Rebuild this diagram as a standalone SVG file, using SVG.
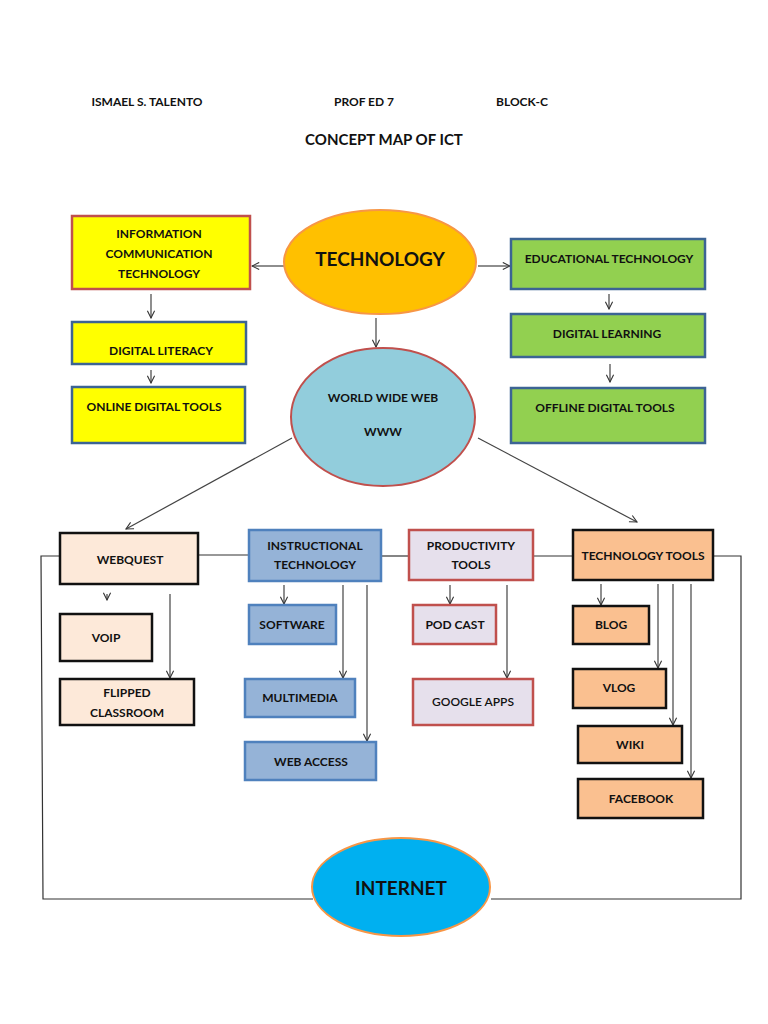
<svg xmlns="http://www.w3.org/2000/svg" width="768" height="1024" viewBox="0 0 768 1024">
<defs>
<marker id="arr" viewBox="0 0 10 10" refX="9" refY="5" markerWidth="9" markerHeight="9" markerUnits="userSpaceOnUse" orient="auto">
<polyline points="1,1 9,5 1,9" fill="none" stroke="#333" stroke-width="1.2"/>
</marker>
<style>
text{font-family:Lato,"Open Sans","Liberation Sans",sans-serif;font-weight:bold;fill:#111;text-anchor:middle}
.t{font-size:12px}
.c{fill:none;stroke:#333;stroke-width:1.2}
.a{fill:none;stroke:#444;stroke-width:1.2;marker-end:url(#arr)}
.yel{fill:#ffff00}
.grn{fill:#92d050;stroke:#3c6494;stroke-width:2.5}
.bl{fill:#95b3d7;stroke:#4f81bd;stroke-width:2.5}
.pk{fill:#fde9d9;stroke:#111;stroke-width:2.5}
.pu{fill:#e6e0ec;stroke:#c0504d;stroke-width:2.5}
.or{fill:#fac090;stroke:#111;stroke-width:2.5}
</style>
</defs>
<rect width="768" height="1024" fill="#fff"/>
<text x="147" y="106" class="t">ISMAEL S. TALENTO</text>
<text x="364" y="106" class="t">PROF ED 7</text>
<text x="522" y="106" class="t">BLOCK-C</text>
<text x="384" y="145" style="font-size:15px">CONCEPT MAP OF ICT</text>

<g id="connectors">
<line class="a" x1="284" y1="266" x2="252" y2="266"/>
<line class="a" x1="478" y1="266" x2="510" y2="266"/>
<line class="a" x1="376" y1="318" x2="376" y2="347"/>
<line class="a" x1="151" y1="294" x2="151" y2="318"/>
<line class="a" x1="151" y1="370" x2="151" y2="383"/>
<line class="a" x1="609" y1="294" x2="609" y2="309"/>
<line class="a" x1="610" y1="364" x2="610" y2="382"/>
<line class="a" x1="292" y1="438" x2="126" y2="529"/>
<line class="a" x1="478" y1="438" x2="637" y2="522"/>
<polyline class="c" points="60,556 41,556 43,899 313,899"/>
<polyline class="c" points="491,899 741,899 741,556 714,556"/>
<line class="c" x1="198" y1="555" x2="249" y2="555"/>
<line class="c" x1="381" y1="556" x2="409" y2="556"/>
<line class="c" x1="533" y1="556" x2="573" y2="556"/>
<line class="a" x1="107" y1="594" x2="107" y2="600"/>
<line class="a" x1="170" y1="594" x2="170" y2="678"/>
<line class="a" x1="284" y1="585" x2="284" y2="604"/>
<line class="a" x1="343" y1="585" x2="343" y2="678"/>
<line class="a" x1="367" y1="585" x2="367" y2="741"/>
<line class="a" x1="450" y1="585" x2="450" y2="604"/>
<line class="a" x1="507" y1="585" x2="507" y2="678"/>
<line class="a" x1="601" y1="584" x2="601" y2="605"/>
<line class="a" x1="658" y1="584" x2="658" y2="668"/>
<line class="a" x1="673" y1="584" x2="673" y2="725"/>
<line class="a" x1="691" y1="584" x2="691" y2="778"/>
</g>

<g id="technology">
<ellipse cx="380" cy="262" rx="96" ry="52" fill="#ffc000" stroke="#f79646" stroke-width="2"/>
<text x="380" y="266" style="font-size:19px">TECHNOLOGY</text>
</g>
<g id="ict">
<rect class="yel" x="72" y="216" width="178" height="73" stroke="#c0504d" stroke-width="2.5"/>
<text class="t" x="159" y="238">INFORMATION</text>
<text class="t" x="159" y="258">COMMUNICATION</text>
<text class="t" x="159" y="278">TECHNOLOGY</text>
</g>
<g id="digital-literacy">
<rect class="yel" x="72" y="322" width="174" height="42" stroke="#3c6494" stroke-width="2.5"/>
<text class="t" x="161" y="355">DIGITAL LITERACY</text>
</g>
<g id="online-digital-tools">
<rect class="yel" x="72" y="387" width="173" height="56" stroke="#3c6494" stroke-width="2.5"/>
<text class="t" x="154" y="411">ONLINE DIGITAL TOOLS</text>
</g>
<g id="educational-technology">
<rect class="grn" x="511" y="239" width="194" height="50"/>
<text class="t" x="609" y="263">EDUCATIONAL TECHNOLOGY</text>
</g>
<g id="digital-learning">
<rect class="grn" x="511" y="314" width="194" height="43"/>
<text class="t" x="607" y="338">DIGITAL LEARNING</text>
</g>
<g id="offline-digital-tools">
<rect class="grn" x="511" y="388" width="194" height="55"/>
<text class="t" x="605" y="412">OFFLINE DIGITAL TOOLS</text>
</g>
<g id="www">
<ellipse cx="383" cy="417" rx="92" ry="69" fill="#92cddc" stroke="#c0504d" stroke-width="2"/>
<text class="t" x="383" y="402">WORLD WIDE WEB</text>
<text class="t" x="383" y="436">WWW</text>
</g>
<g id="webquest">
<rect class="pk" x="60" y="533" width="138" height="51"/>
<text class="t" x="130" y="564">WEBQUEST</text>
</g>
<g id="voip">
<rect class="pk" x="60" y="614" width="92" height="47"/>
<text class="t" x="106" y="642">VOIP</text>
</g>
<g id="flipped-classroom">
<rect class="pk" x="60" y="679" width="134" height="46"/>
<text class="t" x="127" y="697">FLIPPED</text>
<text class="t" x="127" y="717">CLASSROOM</text>
</g>
<g id="instructional-technology">
<rect class="bl" x="249" y="530" width="132" height="51"/>
<text class="t" x="315" y="550">INSTRUCTIONAL</text>
<text class="t" x="315" y="569">TECHNOLOGY</text>
</g>
<g id="software">
<rect class="bl" x="249" y="605" width="87" height="39"/>
<text class="t" x="292" y="629">SOFTWARE</text>
</g>
<g id="multimedia">
<rect class="bl" x="245" y="679" width="110" height="38"/>
<text class="t" x="300" y="702">MULTIMEDIA</text>
</g>
<g id="web-access">
<rect class="bl" x="245" y="742" width="131" height="38"/>
<text class="t" x="311" y="766">WEB ACCESS</text>
</g>
<g id="productivity-tools">
<rect class="pu" x="409" y="530" width="124" height="50"/>
<text class="t" x="471" y="550">PRODUCTIVITY</text>
<text class="t" x="471" y="569">TOOLS</text>
</g>
<g id="pod-cast">
<rect class="pu" x="413" y="605" width="83" height="39"/>
<text class="t" x="455" y="629">POD CAST</text>
</g>
<g id="google-apps">
<rect class="pu" x="413" y="679" width="120" height="46"/>
<text class="t" x="473" y="706" style="font-weight:600">GOOGLE APPS</text>
</g>
<g id="technology-tools">
<rect class="or" x="573" y="530" width="140" height="50"/>
<text class="t" x="643" y="560">TECHNOLOGY TOOLS</text>
</g>
<g id="blog">
<rect class="or" x="573" y="606" width="76" height="38"/>
<text class="t" x="611" y="629">BLOG</text>
</g>
<g id="vlog">
<rect class="or" x="573" y="669" width="93" height="39"/>
<text class="t" x="619" y="692">VLOG</text>
</g>
<g id="wiki">
<rect class="or" x="578" y="726" width="104" height="37"/>
<text class="t" x="630" y="749">WIKI</text>
</g>
<g id="facebook">
<rect class="or" x="578" y="779" width="125" height="39"/>
<text class="t" x="641" y="803">FACEBOOK</text>
</g>
<g id="internet">
<ellipse cx="401" cy="887" rx="89" ry="49" fill="#00b0f0" stroke="#f79646" stroke-width="2"/>
<text x="401" y="895" style="font-size:19px">INTERNET</text>
</g>
</svg>
